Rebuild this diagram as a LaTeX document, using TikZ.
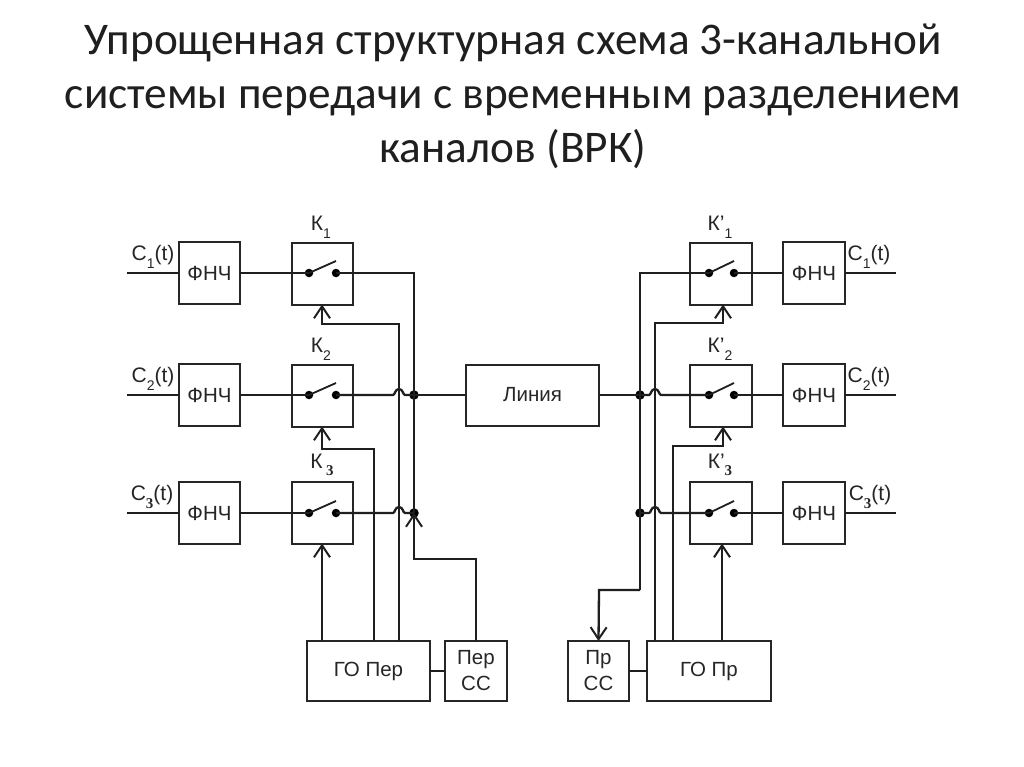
\documentclass[tikz,border=0pt]{standalone}
\usepackage{fontspec}
\setmainfont{Liberation Sans}
\newfontfamily\titlefont{Carlito}
\newfontfamily\thirdfont{Liberation Serif}
\usetikzlibrary{arrows.meta}
\newcommand{\sbs}[1]{\raisebox{-0.36em}{\fontsize{14}{14}\selectfont #1}}
\newcommand{\sbt}{\raisebox{-0.36em}{\fontsize{15}{15}\selectfont\thirdfont\bfseries 3}}
\tikzset{
  x=1pt,y=-1pt,
  line/.style={line width=2.3pt,draw=black!88,line join=miter},
  blk/.style={draw=black!85,line width=2pt,inner sep=0pt,outer sep=0pt,fill=white,align=center,font=\fontsize{20.5}{26}\selectfont,text=black!85},
  cell/.style={blk,minimum width=61.5pt,minimum height=62pt},
  lab/.style={inner sep=0pt,font=\fontsize{21}{22}\selectfont,text=black!85},
  dot/.style={circle,fill=black,inner sep=0pt,minimum size=8.5pt,outer sep=0pt},
  jdot/.style={circle,fill=black,inner sep=0pt,minimum size=9.5pt,outer sep=0pt},
  arr/.style={line,-{Straight Barb[length=12pt,width=16pt,line width=2pt]}},
  title/.style={inner sep=0pt,font=\titlefont\fontsize{45.3}{54}\selectfont,text=black!88,align=center}
}
\begin{document}
\begin{tikzpicture}
\useasboundingbox[fill=white] (0,0) rectangle (1024,767);
\node[title] (ttl) at (513,96) {Упрощенная структурная схема 3-канальной\\системы передачи с временным разделением\\каналов (ВРК)};
% left filters
\node[cell] (f1) at (209.5,273) {ФНЧ};
\node[cell] (f2) at (209.5,395) {ФНЧ};
\node[cell] (f3) at (209.5,513) {ФНЧ};
% left keys
\node[cell] (k1) at (322.5,273.5) {};
\node[cell] (k2) at (322.5,395.5) {};
\node[cell] (k3) at (322.5,512.5) {};
% right keys
\node[cell] (r1) at (721,273.5) {};
\node[cell] (r2) at (721,395.5) {};
\node[cell] (r3) at (721,512.5) {};
% right filters
\node[cell] (g1) at (814,273) {ФНЧ};
\node[cell] (g2) at (814,395) {ФНЧ};
\node[cell] (g3) at (814,513) {ФНЧ};
% line
\node[blk,minimum width=133pt,minimum height=61pt] (ln) at (532.5,395) {Линия};
% bottom
\node[blk,minimum width=123pt,minimum height=60pt] (gop) at (368.5,671) {ГО Пер};
\node[blk,minimum width=62pt,minimum height=60pt] (pcc) at (476,671) {Пер\\СС};
\node[blk,minimum width=61pt,minimum height=60pt] (rcc) at (598.5,671) {Пр\\СС};
\node[blk,minimum width=124pt,minimum height=60pt] (gor) at (709,671) {ГО Пр};
% contacts
\foreach \n/\y in {1/273,2/395,3/513}{
  \node[dot] (a\n) at (309,\y) {};
  \node[dot] (b\n) at (336,\y) {};
  \node[dot] (c\n) at (709,\y) {};
  \node[dot] (d\n) at (734,\y) {};
  \coordinate (ae\n) at (336,\y-12);
  \coordinate (ce\n) at (734,\y-12);
  \draw[line,line width=1.8pt] (a\n.center) -- (ae\n);
  \draw[line,line width=1.8pt] (c\n.center) -- (ce\n);
  \draw[line] (f\n.east) -- (a\n.center);
  \draw[line] (d\n.center) -- (g\n.west);
  \coordinate (in\n) at (127,\y);
  \coordinate (out\n) at (896,\y);
  \draw[line] (in\n) -- (f\n.west);
  \draw[line] (g\n.east) -- (out\n);
}
% junctions
\node[jdot] (jl2) at (414,395) {};
\node[jdot] (jl3) at (414,513) {};
\node[jdot] (jr2) at (640,395) {};
\node[jdot] (jr3) at (640,513) {};
% left outputs
\coordinate (tl1) at (414,273);
\draw[line] (b1.center) -- (tl1) -- (jl2.center) -- (ln.west);
\draw[line] (b2.center) -- (393,395) .. controls (395,395) and (395,389) .. (399,389) .. controls (403,389) and (403,395) .. (405,395) -- (jl2.center);
\draw[line] (b3.center) -- (393,513) .. controls (395,513) and (395,507) .. (399,507) .. controls (403,507) and (403,513) .. (405,513) -- (jl3.center);
% sync to left
\coordinate (tl4) at (414,559);
\coordinate (tl5) at (476,559);
\draw[arr] (pcc.north) -- (tl5) -- (tl4) -- (jl3.center);
\draw[line] (jl2.center) -- (jl3.center);
% left control lines
\coordinate (u1) at (399,324);
\coordinate (u1b) at (322,324);
\coordinate (u1g) at (399,641);
\coordinate (u2) at (374,449);
\coordinate (u2b) at (322,449);
\coordinate (u2g) at (374,641);
\coordinate (u3g) at (322,641);
\draw[arr] (u1g) -- (u1) -- (u1b) -- (k1.south -| u1b);
\draw[arr] (u2g) -- (u2) -- (u2b) -- (k2.south -| u2b);
\draw[arr] (u3g) -- (k3.south -| u3g);
% right side
\coordinate (tr1) at (640,273);
\coordinate (tr4) at (640,590);
\coordinate (tr5) at (599,590);
\draw[line] (c1.center) -- (tr1) -- (jr2.center) -- (jr3.center) -- (tr4);
\draw[arr] (tr4) -- (tr5) -- (rcc.north);
\draw[line] (ln.east) -- (jr2.center);
\draw[line] (jr2.center) -- (649,395) .. controls (651,395) and (651,389) .. (655,389) .. controls (659,389) and (659,395) .. (661,395) -- (c2.center);
\draw[line] (jr3.center) -- (649,513) .. controls (651,513) and (651,507) .. (655,507) .. controls (659,507) and (659,513) .. (661,513) -- (c3.center);
\coordinate (v1g) at (655,641);
\coordinate (v1) at (655,323);
\coordinate (v1b) at (723,323);
\coordinate (v2g) at (673,641);
\coordinate (v2) at (673,446);
\coordinate (v2b) at (723,446);
\coordinate (v3g) at (722,641);
\draw[arr] (v1g) -- (v1) -- (v1b) -- (r1.south -| v1b);
\draw[arr] (v2g) -- (v2) -- (v2b) -- (r2.south -| v2b);
\draw[arr] (v3g) -- (r3.south -| v3g);
% bottom links
\draw[line] (gop.east) -- (pcc.west);
\draw[line] (rcc.east) -- (gor.west);
% labels
\node[lab] (l1) at (153,257) {С\sbs{1}(t)};
\node[lab] (l2) at (153,379) {С\sbs{2}(t)};
\node[lab] (l3) at (152,497) {С\sbt(t)};
\node[lab] (m1) at (869,257) {С\sbs{1}(t)};
\node[lab] (m2) at (869,379) {С\sbs{2}(t)};
\node[lab] (m3) at (870,497) {С\sbt(t)};
\node[lab] (n1) at (321,227) {К\sbs{1}};
\node[lab] (n2) at (321,349) {К\sbs{2}};
\node[lab] (n3) at (322,465) {К\,\sbt};
\node[lab] (q1) at (720,227) {К’\sbs{1}};
\node[lab] (q2) at (720,349) {К’\sbs{2}};
\node[lab] (q3) at (720,465) {К’\sbt};
\end{tikzpicture}
\end{document}
